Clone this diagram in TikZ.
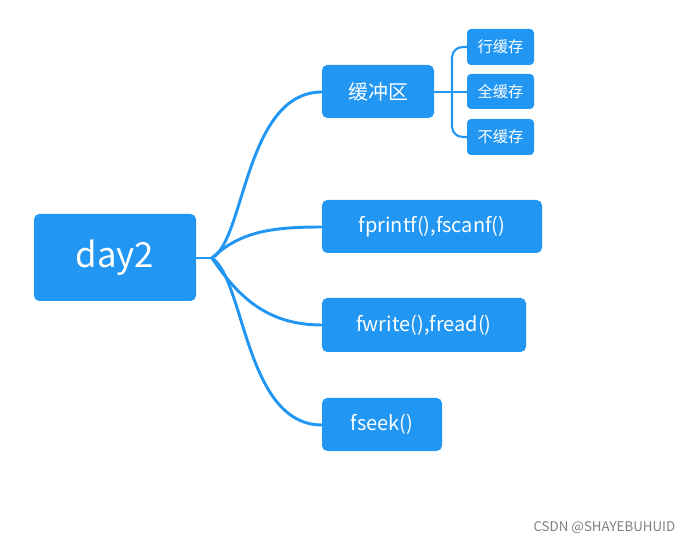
\documentclass[tikz,border=0pt]{standalone}
\usepackage{fontspec}
\setmainfont{Noto Sans CJK SC}
\begin{document}
\begin{tikzpicture}[x=0.75pt,y=-0.75pt]
\definecolor{mb}{RGB}{33,150,243}
\tikzset{box/.style={fill=mb,rounded corners=4pt,text=white,font=\fontsize{15}{18}\selectfont},
 small/.style={fill=mb,rounded corners=3pt,text=white,font=\fontsize{11.5}{14}\selectfont},
 link/.style={draw=mb,line width=2.2pt}}
\useasboundingbox (0,0) rectangle (693,545);
\path[box] (34,214) rectangle (196,301);
\node[text=white,font=\fontsize{26}{30}\selectfont] (d) at (115,257.5) {day2};
\path[box] (322,65) rectangle (434,118); \node[text=white,font=\fontsize{15}{18}\selectfont] (h) at (378,91.5) {缓冲区};
\path[box] (322,200) rectangle (542,253); \node[text=white,font=\fontsize{15}{18}\selectfont] (p) at (432,226.5) {fprintf(),fscanf()};
\path[box] (322,298) rectangle (526,352); \node[text=white,font=\fontsize{15}{18}\selectfont] (w) at (424,325) {fwrite(),fread()};
\path[box] (322,398) rectangle (442,451); \node[text=white,font=\fontsize{15}{18}\selectfont] (s) at (382,424.5) {fseek()};
\path[small] (467,29) rectangle (534,65); \node[text=white,font=\fontsize{11.5}{14}\selectfont] (a) at (500.5,47) {行缓存};
\path[small] (467,74) rectangle (534,109); \node[text=white,font=\fontsize{11.5}{14}\selectfont] (b) at (500.5,91.5) {全缓存};
\path[small] (467,119) rectangle (534,155); \node[text=white,font=\fontsize{11.5}{14}\selectfont] (c) at (500.5,137) {不缓存};
\coordinate (j) at (212,258);
\draw[link] (196,258) -- (j);
\draw[link] (j) .. controls (245,240) and (245,92) .. (322,92);
\draw[link] (j) .. controls (240,232) and (270,227) .. (322,227);
\draw[link] (j) .. controls (240,300) and (270,325) .. (322,325);
\draw[link] (j) .. controls (245,280) and (245,425) .. (322,425);
\draw[draw=mb,line width=1.6pt] (434,92) -- (467,92);
\draw[draw=mb,line width=1.6pt,rounded corners=8pt] (467,47) -- (452,47) -- (452,137) -- (467,137);
\node[text=gray,font=\fontsize{10}{12}\selectfont,anchor=east] (wm) at (680,528) {CSDN @SHAYEBUHUID};
\end{tikzpicture}
\end{document}
